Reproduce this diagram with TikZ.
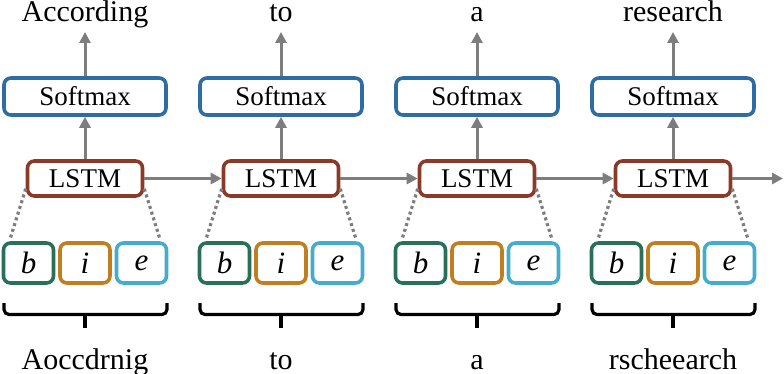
\documentclass[tikz,border=0pt]{standalone}
\usepackage{fontspec}
\setmainfont{Liberation Serif}[ItalicFont={Liberation Serif Italic}]
\usetikzlibrary{calc,arrows.meta}
\definecolor{smblue}{RGB}{46,108,164}
\definecolor{lstmred}{RGB}{139,58,40}
\definecolor{cgreen}{RGB}{42,112,88}
\definecolor{corange}{RGB}{192,126,32}
\definecolor{ccyan}{RGB}{70,172,206}
\definecolor{arrgray}{RGB}{125,125,125}
\tikzset{
  smbox/.style={draw=smblue,line width=3.6pt,rounded corners=7pt,minimum width=162pt,minimum height=37pt,inner sep=0pt,font=\fontsize{27}{30}\selectfont},
  lstmbox/.style={draw=lstmred,line width=3.6pt,rounded corners=7pt,minimum width=115pt,minimum height=35pt,inner sep=0pt,font=\fontsize{27}{30}\selectfont},
  chbox/.style={line width=3.6pt,rounded corners=7pt,minimum width=50pt,minimum height=40pt,inner sep=0pt,font=\fontsize{31}{32}\selectfont\itshape},
  lbl/.style={inner sep=0pt,anchor=base,font=\fontsize{30}{34}\selectfont},
  arr/.style={draw=arrgray,line width=3pt,-{Triangle[length=11pt,width=11pt]}},
  dotl/.style={draw=arrgray,line width=3.2pt,dash pattern=on 3pt off 3pt},
  brc/.style={draw=black,line width=3.2pt,rounded corners=5pt}
}
\begin{document}
\begin{tikzpicture}[x=1pt,y=-1pt]
\useasboundingbox (0,0) rectangle (784,374);
\foreach \k/\top/\bot in {1/According/Aoccdrnig,2/to/to,3/a/a,4/research/rscheearch}{
  \pgfmathsetmacro{\cx}{85+196*(\k-1)}
  \node[smbox] (S\k) at (\cx,96.5) {Softmax};
  \node[lstmbox] (L\k) at (\cx,178.5) {LSTM};
  \node[lbl] (T\k) at (\cx,22) {\top};
  \coordinate (TT\k) at (\cx,32);
  \node[chbox,draw=cgreen] (B\k) at (\cx-56.5,263) {b};
  \node[chbox,draw=corange] (I\k) at (\cx,263) {i};
  \node[chbox,draw=ccyan] (E\k) at (\cx+56.5,263) {e};
  \node[lbl] (W\k) at (\cx,369) {\bot};
  \draw[arr] (L\k) -- (S\k);
  \draw[arr] (S\k) -- (TT\k);
  \draw[dotl] ($(L\k.south west)+(0,-9)$) -- ($(B\k.north west)+(8,-1)$);
  \draw[dotl] ($(L\k.south east)+(0,-9)$) -- ($(E\k.north east)+(-8,-1)$);
  \coordinate (BL\k) at (\cx-81,303);
  \coordinate (BR\k) at (\cx+82,303);
  \coordinate (BM\k) at (\cx,314.5);
  \coordinate (BT\k) at (\cx,328);
  \draw[brc] (BL\k) |- (BM\k) -| (BR\k);
  \draw[draw=black,line width=3.2pt] (BM\k) -- (BT\k);
}
\draw[arr] (L1) -- (L2);
\draw[arr] (L2) -- (L3);
\draw[arr] (L3) -- (L4);
\coordinate (END) at (783,178.5);
\draw[arr] (L4) -- (END);
\end{tikzpicture}
\end{document}
